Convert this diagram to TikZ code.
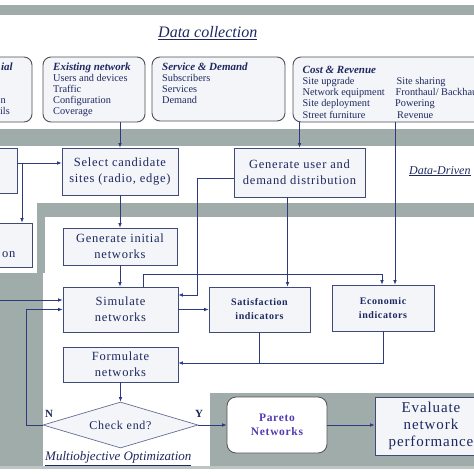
\documentclass[tikz,border=0pt]{standalone}
\usepackage{fontspec}
\setmainfont{Liberation Serif}
\newfontfamily\spc{Liberation Serif}[LetterSpace=6]
\usetikzlibrary{arrows.meta,shapes.geometric,calc}
\definecolor{bandgray}{RGB}{160,172,169}
\definecolor{boxfill}{RGB}{243,245,249}
\definecolor{boxline}{RGB}{62,74,120}
\definecolor{txt}{RGB}{30,40,95}
\definecolor{arrowc}{RGB}{45,58,125}
\definecolor{dcline}{RGB}{80,80,85}
\definecolor{paretoc}{RGB}{85,60,175}
\tikzset{
  proc/.style={draw=boxline, fill=boxfill, line width=0.8pt, text=txt, align=center, inner sep=0pt, font=\spc\fontsize{12.5}{16}\selectfont},
  ind/.style={proc, font=\spc\fontsize{10}{14}\selectfont\bfseries},
  dcbox/.style={draw=dcline, fill=boxfill, line width=0.9pt, rounded corners=8pt, inner sep=0pt},
  dct/.style={text=txt, inner sep=0pt, anchor=base west, font=\fontsize{10.3}{11}\selectfont},
  dch/.style={dct, font=\fontsize{11}{11}\selectfont\bfseries\itshape},
  ttl/.style={text=txt, inner sep=0pt, anchor=base west},
  arr/.style={draw=arrowc, line width=0.7pt, -{Latex[length=4.5pt,width=3.6pt]}},
  ln/.style={draw=arrowc, line width=0.7pt}
}
\begin{document}
\begin{tikzpicture}[x=1pt,y=-1pt]
\clip (0,0) rectangle (474,474);
\fill[white] (0,0) rectangle (474,474);
% gray frame bands
\fill[bandgray] (0,5) rectangle (474,15);
\fill[bandgray] (0,129) rectangle (474,146);
\fill[bandgray] (37,203) rectangle (474,217);
\fill[bandgray] (37,203) rectangle (45,273);
\fill[bandgray] (0,273) rectangle (43,468);
\fill[bandgray] (210,393) rectangle (474,468);
\fill[bandgray!70] (0,466) rectangle (474,469);

% data collection
\node[ttl, font=\itshape\fontsize{16}{18}\selectfont] (dctitle) at (158,37.3) {\underline{Data collection}};
\node[dcbox, minimum width=92, minimum height=65] (dc1) at (-14,89.5) {};
\node[dcbox, minimum width=102, minimum height=65] (dc2) at (94,89.5) {};
\node[dcbox, minimum width=133, minimum height=64] (dc3) at (218.5,89) {};
\node[dcbox, minimum width=227, minimum height=65] (dc4) at (406.5,89.5) {};

\node[dch, anchor=base east] (t1a) at (13,70) {ial};
\node[dct, anchor=base east] (t1b) at (6,103.5) {n};
\node[dct, anchor=base east] (t1c) at (10,114.5) {ils};

\node[dch] (t2h) at (53,70) {Existing network};
\node[dct] (t2a) at (53,81.7) {Users and devices};
\node[dct] (t2b) at (53,92.7) {Traffic};
\node[dct] (t2c) at (53,103.5) {Configuration};
\node[dct] (t2d) at (53,114.5) {Coverage};

\node[dch] (t3h) at (162,70) {Service \& Demand};
\node[dct] (t3a) at (162,81.7) {Subscribers};
\node[dct] (t3b) at (162,92.7) {Services};
\node[dct] (t3c) at (162,103.5) {Demand};

\node[dch] (t4h) at (302.5,73) {Cost \& Revenue};
\node[dct] (t4a) at (302.5,84) {Site upgrade};
\node[dct] (t4b) at (302.5,95.3) {Network equipment};
\node[dct] (t4c) at (302.5,106.7) {Site deployment};
\node[dct] (t4d) at (302.5,118) {Street furniture};
\node[dct] (t4e) at (396.5,84) {Site sharing};
\node[dct] (t4f) at (395.5,95.3) {Fronthaul/ Backhaul};
\node[dct] (t4g) at (395,106.7) {Powering};
\node[dct] (t4h) at (397,118) {Revenue};

\node[ttl, font=\itshape\fontsize{12}{14}\selectfont] (ddtitle) at (409,174) {\underline{Data-Driven}};
\node[ttl, font=\itshape\fontsize{13}{15}\selectfont] (motitle) at (45,460.7) {\underline{Multiobjective Optimization}};

% left boxes
\node[proc, minimum width=60, minimum height=45] (lb1) at (-13,170.5) {};
\node[proc, minimum width=72, minimum height=44] (lb2) at (-4,245) {};
\node[text=txt, inner sep=0pt, anchor=base west, font=\spc\fontsize{12.5}{16}\selectfont] (lb2t) at (2,257) {on};

% process boxes
\node[proc, minimum width=116, minimum height=47] (sel) at (120,171.5) {Select candidate\\sites (radio, edge)};
\node[proc, minimum width=131, minimum height=49] (genud) at (299.5,172.5) {Generate user and\\demand distribution};
\node[proc, minimum width=114, minimum height=37] (geni) at (120,246.5) {Generate initial\\networks};
\node[proc, minimum width=115, minimum height=45] (sim) at (120.5,309.5) {Simulate\\networks};
\node[ind, minimum width=101, minimum height=45] (sat) at (259.5,309.5) {Satisfaction\\indicators};
\node[ind, minimum width=102, minimum height=46] (eco) at (383,308) {Economic\\indicators};
\node[proc, minimum width=115, minimum height=35] (form) at (120.5,364.5) {Formulate\\networks};
\node[diamond, aspect=3.37, draw=boxline!80, fill=boxfill, line width=0.7pt, inner sep=0pt, text=txt, font=\spc\fontsize{12}{14}\selectfont, minimum width=155, minimum height=46] (dia) at (120.5,425) {Check end?};
\node[draw=dcline, fill=white, rounded corners=9pt, line width=0.8pt, minimum width=100, minimum height=56, text=paretoc, align=center, inner sep=0pt, font=\spc\fontsize{11.5}{14}\selectfont\bfseries] (par) at (277,425) {Pareto\\Networks};
\node[proc, minimum width=112, minimum height=58, font=\spc\fontsize{15}{17}\selectfont] (eval) at (431,426) {Evaluate\\network\\performance};

\node[text=txt, inner sep=0pt, anchor=base west, font=\bfseries\fontsize{11}{12}\selectfont] (nlab) at (45,417) {N};
\node[text=txt, inner sep=0pt, anchor=base west, font=\bfseries\fontsize{11}{12}\selectfont] (ylab) at (195,417) {Y};

% connectors
\coordinate (j1) at (22,163);
\coordinate (ext) at (-5,300);
\coordinate (fj) at ([yshift=1.5pt]form.east);
\draw[arr] (sel.north |- dc2.south) -- (sel.north);
\draw[arr] (genud.north |- dc4.south) -- (genud.north);
\draw[arr] ([xshift=12pt]eco.north |- dc4.south) -- ([xshift=12pt]eco.north);
\draw[arr] (lb1.east |- j1) -- ([yshift=8.5pt]sel.west);
\draw[arr] (j1) -- (j1 |- lb2.north);
\draw[arr] (sel.south) -- (geni.north);
\draw[arr] (geni.south) -- (geni.south |- sim.north);
\draw[arr] ([yshift=-5.5pt]genud.west) -- ++(-36,0) |- ([yshift=14.5pt]sim.east);
\draw[arr] ([xshift=-12pt]genud.south) -- ([xshift=-12pt]genud.south |- sat.north);
\draw[arr] ([xshift=22.5pt]sim.north) -- ++(0,-12) -| ([xshift=-1pt]eco.north);
\draw[arr] (sim.east) -- (sat.west);
\draw[arr] (sat.south) |- (fj);
\draw[ln] (eco.south) |- (sat.south |- fj);
\draw[arr] (form.south) -- (dia.north);
\draw[arr] (dia.west) -- ++(-16,0) |- (sim.west);
\draw[arr] (ext) -- ([yshift=9.5pt]sim.west);
\draw[arr] (dia.east) -- (par.west);
\draw[arr] (par.east) -- (par.east -| eval.west);
\end{tikzpicture}
\end{document}
